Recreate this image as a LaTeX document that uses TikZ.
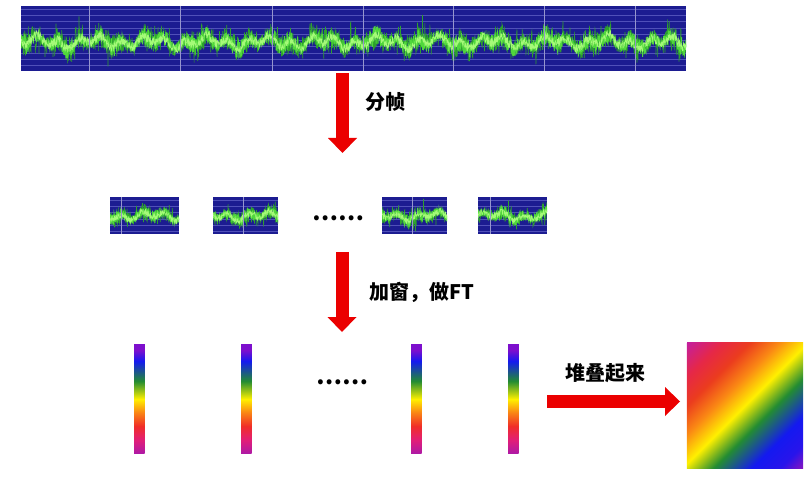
\documentclass[tikz,border=0pt]{standalone}
\usepackage{fontspec}
\setmainfont{Noto Sans CJK SC}
\usetikzlibrary{arrows.meta}
\definecolor{wavebg}{RGB}{28,28,145}
\definecolor{hlinec}{RGB}{80,80,185}
\definecolor{vlinec}{RGB}{150,150,205}
\definecolor{sigdark}{RGB}{45,160,45}
\definecolor{sigmid}{RGB}{80,215,60}
\definecolor{siglight}{RGB}{165,250,120}
\definecolor{arrred}{RGB}{235,0,0}
\definecolor{cpurple}{RGB}{125,15,205}
\definecolor{cmagbot}{RGB}{175,25,165}
\definecolor{cmag}{RGB}{225,30,120}
\definecolor{cred}{RGB}{240,45,40}
\definecolor{corange}{RGB}{250,135,20}
\definecolor{cyellow}{RGB}{255,240,0}
\definecolor{cgreen}{RGB}{35,140,50}
\definecolor{cblue}{RGB}{20,25,240}
\definecolor{sqmag}{RGB}{195,30,160}
\definecolor{sqred}{RGB}{230,40,70}
\definecolor{sqred2}{RGB}{235,60,30}
\definecolor{sqpurple}{RGB}{140,20,190}
\definecolor{sqblue2}{RGB}{40,20,235}
\pgfdeclareverticalshading{cbar}{10.5bp}{color(0bp)=(cmagbot); color(13bp)=(cmag); color(27bp)=(cred); color(41bp)=(corange); color(54bp)=(cyellow); color(72bp)=(cgreen); color(92bp)=(cblue); color(103bp)=(cpurple); color(110bp)=(cpurple)}
\pgfdeclarehorizontalshading{csquare}{200bp}{color(0bp)=(sqmag); color(25bp)=(sqred); color(45bp)=(sqred2); color(65bp)=(corange); color(86bp)=(cyellow); color(108bp)=(cgreen); color(135bp)=(cblue); color(155bp)=(sqblue2); color(172bp)=(sqpurple)}
\tikzset{
  hl/.style={draw=hlinec, line width=0.6bp},
  vl/.style={draw=vlinec, line width=0.7bp},
  sigd/.style={draw=sigdark, line width=0.6bp},
  sigm/.style={draw=sigmid, line width=0.8bp},
  sigl/.style={draw=siglight, line width=0.5bp},
  bigarrow/.style={draw=arrred, line width=13bp, -{Triangle[width=29bp,length=15bp,line width=0pt,fill=arrred]}},
  lbl/.style={inner sep=0pt, font=\fontsize{20bp}{24bp}\selectfont\bfseries},
  dotsl/.style={inner sep=0pt, font=\fontsize{23bp}{24bp}\selectfont\bfseries},
}
% #1 name, #2 x0, #3 y0, #4 x1, #5 y1, #6 centre y, #7 amplitude
\newcommand\mywave[7]{%
  \fill[wavebg] (#2,#3) rectangle (#4,#5);
  \coordinate (#1) at ({(#2+#4)/2},{(#3+#5)/2});
  \begin{scope}
    \clip (#2,#3) rectangle (#4,#5);
    \foreach \k in {0,...,11} { \draw[hl] (#2,{#3+3+\k*6.3}) -- (#4,{#3+3+\k*6.3}); }
    \pgfmathtruncatemacro\ns{3*(#4-#2)}
    \draw[sigd] plot[domain=#2:#4, samples=\ns, variable=\t] (\t, {#6 + 0.3*#7*sin(\t*17) + 0.25*#7*sin(\t*6.3+40) + #7*(0.5+0.5*abs(sin(\t*4.1)))*rand + #7*1.5*rand*rand*rand});
    \draw[sigm] plot[domain=#2:#4, samples=\ns, variable=\t] (\t, {#6 + 0.3*#7*sin(\t*17) + 0.25*#7*sin(\t*6.3+40) + 0.75*#7*(0.5+0.5*abs(sin(\t*4.1)))*rand});
    \draw[sigl] plot[domain=#2:#4, samples=\ns, variable=\t] (\t, {#6 + 0.3*#7*sin(\t*17) + 0.25*#7*sin(\t*6.3+40) + 0.35*#7*rand});
  \end{scope}
}
\begin{document}
\begin{tikzpicture}[x=1bp, y=-1bp]
\useasboundingbox (0,0) rectangle (812,482);
\pgfmathsetseed{4242}
% top waveform
\mywave{w0}{21}{6}{686}{71}{42}{13}
\foreach \xx in {89,180,272,363,453,544,635} { \draw[vl] (\xx,6) -- (\xx,71); }
% frames
\mywave{f1}{110}{197}{179}{234}{216}{9}
\draw[vl] (121,197) -- (121,234);
\mywave{f2}{213}{197}{278}{234}{216}{9}
\draw[vl] (243,197) -- (243,234);
\mywave{f3}{382}{197}{447}{234}{216}{9}
\draw[vl] (412,197) -- (412,234);
\mywave{f4}{478}{197}{547}{234}{216}{9}
\draw[vl] (490,197) -- (490,234);
\node[dotsl] (d1) at (338,218) {……};
% arrows
\coordinate (a1s) at (342.5,73);
\coordinate (a1e) at (342.5,153);
\draw[bigarrow] (a1s) -- (a1e);
\node[lbl] (t1) at (385,102) {分帧};
\coordinate (a2s) at (342,252);
\coordinate (a2e) at (342,332);
\draw[bigarrow] (a2s) -- (a2e);
\node[lbl, anchor=west] (t2) at (369,292) {加窗，做FT};
% colour bars
\node[inner sep=0pt, anchor=north west] (b1) at (134,343) {\pgfuseshading{cbar}};
\node[inner sep=0pt, anchor=north west] (b2) at (241,343) {\pgfuseshading{cbar}};
\node[inner sep=0pt, anchor=north west] (b3) at (411,343) {\pgfuseshading{cbar}};
\node[inner sep=0pt, anchor=north west] (b4) at (508,343) {\pgfuseshading{cbar}};
\node[dotsl] (d2) at (342,382) {……};
% stack arrow
\coordinate (a3s) at (547,401.5);
\coordinate (a3e) at (680,401.5);
\draw[bigarrow] (a3s) -- (a3e);
\node[lbl] (t3) at (605,373) {堆叠起来};
% square
\node[inner sep=0pt, minimum width=116bp, minimum height=125bp] (sq) at (745,405.5) {};
\begin{scope}
  \clip (sq.south west) rectangle (sq.north east);
  \node[inner sep=0pt, rotate=-45] (sqs) at (sq.center) {\pgfuseshading{csquare}};
\end{scope}
\end{tikzpicture}
\end{document}
